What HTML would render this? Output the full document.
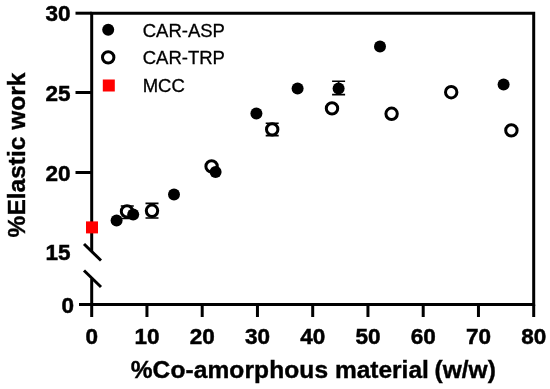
<!DOCTYPE html>
<html lang="en"><head><meta charset="utf-8"><title>Elastic work chart</title>
<style>html,body{margin:0;padding:0;background:#fff}svg{display:block}</style></head>
<body>
<svg width="550" height="389" viewBox="0 0 550 389">
<rect width="550" height="389" fill="#fff"/>
<g stroke="#000" stroke-width="3.0" fill="none" stroke-linecap="butt">
<path d="M90.2 13.2 H533.7 V306.0"/>
<path d="M90.2 304.5 H533.7"/>
<path d="M91.7 13.2 V252"/>
<path d="M91.7 278.5 V304.5"/>
<path d="M84 244 L101 260.5"/>
<path d="M84 270.5 L101 287"/>
<path d="M75.5 13.2 H91.7"/>
<path d="M75.5 92.5 H91.7"/>
<path d="M75.5 172.5 H91.7"/>
<path d="M79 304.5 H91.7"/>
<path d="M91.70 304.5 V317"/>
<path d="M146.95 304.5 V317"/>
<path d="M202.20 304.5 V317"/>
<path d="M257.45 304.5 V317"/>
<path d="M312.70 304.5 V317"/>
<path d="M367.95 304.5 V317"/>
<path d="M423.20 304.5 V317"/>
<path d="M478.45 304.5 V317"/>
<path d="M533.70 304.5 V317"/>
</g>
<g stroke="#000" stroke-width="1.6" fill="none">
<path d="M127.3 206 V218.5 M120.8 206 h13 M120.8 218.5 h13"/>
<path d="M152 203.4 V218 M145.5 203.4 h13 M145.5 218 h13"/>
<path d="M272.2 123.2 V135.6 M265.7 123.2 h13 M265.7 135.6 h13"/>
<path d="M338.6 81.2 V94.6 M332.1 81.2 h13 M332.1 94.6 h13"/>
</g>
<circle cx="127" cy="211.4" r="5.7" fill="#fff" stroke="#000" stroke-width="3.0"/>
<circle cx="152" cy="210.8" r="5.7" fill="#fff" stroke="#000" stroke-width="3.0"/>
<circle cx="211.6" cy="166.4" r="5.7" fill="#fff" stroke="#000" stroke-width="3.0"/>
<circle cx="272.2" cy="129.4" r="5.7" fill="#fff" stroke="#000" stroke-width="3.0"/>
<circle cx="332" cy="108.4" r="5.7" fill="#fff" stroke="#000" stroke-width="3.0"/>
<circle cx="391.6" cy="113.8" r="5.7" fill="#fff" stroke="#000" stroke-width="3.0"/>
<circle cx="451.2" cy="92.2" r="5.7" fill="#fff" stroke="#000" stroke-width="3.0"/>
<circle cx="511.4" cy="130.4" r="5.7" fill="#fff" stroke="#000" stroke-width="3.0"/>
<circle cx="116.6" cy="220.4" r="6.0" fill="#000"/>
<circle cx="133.2" cy="214.4" r="6.0" fill="#000"/>
<circle cx="174" cy="194.4" r="6.0" fill="#000"/>
<circle cx="215.6" cy="172" r="6.0" fill="#000"/>
<circle cx="256.4" cy="113.4" r="6.0" fill="#000"/>
<circle cx="297.6" cy="88.4" r="6.0" fill="#000"/>
<circle cx="338.6" cy="88.4" r="6.0" fill="#000"/>
<circle cx="380" cy="46.4" r="6.0" fill="#000"/>
<circle cx="503.6" cy="84.4" r="6.0" fill="#000"/>
<rect x="86" y="221.4" width="12" height="12" fill="#f00"/>
<circle cx="108.2" cy="29.8" r="6.0" fill="#000"/>
<circle cx="108.2" cy="57.4" r="5.7" fill="#fff" stroke="#000" stroke-width="3.0"/>
<rect x="102.8" y="79.5" width="12" height="12" fill="#f00"/>
<g font-family="'Liberation Sans', Arial, sans-serif" font-size="18.5" fill="#000" stroke="#000" stroke-width="0.3">
<text x="142.7" y="36.8">CAR-ASP</text>
<text x="142.7" y="64.4">CAR-TRP</text>
<text x="142.7" y="92.4">MCC</text>
</g>
<g font-family="'Liberation Sans', Arial, sans-serif" font-size="22.5" font-weight="bold" fill="#000" stroke="#000" stroke-width="0.5">
<text x="91.70" y="343.6" text-anchor="middle">0</text>
<text x="146.95" y="343.6" text-anchor="middle">10</text>
<text x="202.20" y="343.6" text-anchor="middle">20</text>
<text x="257.45" y="343.6" text-anchor="middle">30</text>
<text x="312.70" y="343.6" text-anchor="middle">40</text>
<text x="367.95" y="343.6" text-anchor="middle">50</text>
<text x="423.20" y="343.6" text-anchor="middle">60</text>
<text x="478.45" y="343.6" text-anchor="middle">70</text>
<text x="533.70" y="343.6" text-anchor="middle">80</text>
<text x="70.5" y="21.4" text-anchor="end">30</text>
<text x="70.5" y="100.8" text-anchor="end">25</text>
<text x="70.5" y="180.8" text-anchor="end">20</text>
<text x="70.5" y="259.5" text-anchor="end">15</text>
<text x="74" y="312.8" text-anchor="end">0</text>
</g>
<g font-family="'Liberation Sans', Arial, sans-serif" font-size="24.5" font-weight="bold" fill="#000" stroke="#000" stroke-width="0.4">
<text x="130.7" y="378" letter-spacing="0.11">%Co-amorphous</text>
<text x="334.9" y="378">material</text>
<text x="434.6" y="378">(w/w)</text>
<text transform="translate(25 155) rotate(-90)" text-anchor="middle">%Elastic work</text>
</g>
</svg>
</body></html>
